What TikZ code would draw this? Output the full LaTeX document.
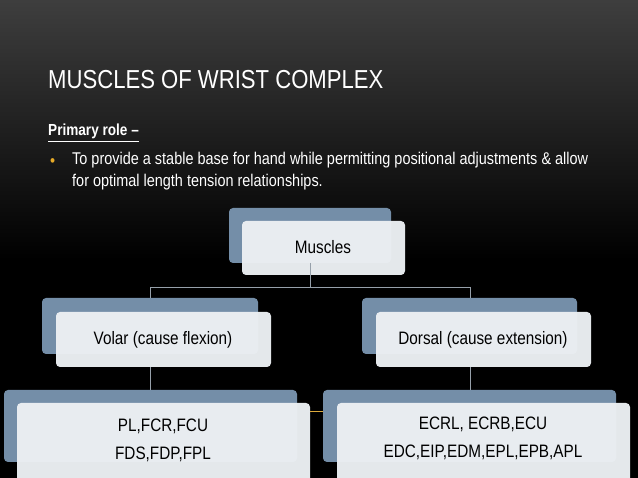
\documentclass[tikz,border=0pt]{standalone}
\usepackage{fontspec}
\setmainfont[FakeStretch=0.85]{Liberation Sans}
\definecolor{goldline}{RGB}{220,170,60}
\definecolor{bulletc}{RGB}{230,170,40}
\definecolor{backc}{RGB}{116,142,168}
\definecolor{frontc}{RGB}{236,240,243}
\definecolor{connc}{RGB}{150,160,170}
\definecolor{topgray}{RGB}{62,62,62}
\begin{document}
\begin{tikzpicture}[x=1pt,y=-1pt,
  backbox/.style={fill=backc,rounded corners=4pt},
  frontbox/.style={fill=frontc,fill opacity=0.97,rounded corners=4pt},
  lbl/.style={font=\fontsize{18}{22}\selectfont,text=black},
  conn/.style={draw=connc,line width=0.7pt}]
\useasboundingbox (0,0) rectangle (638,478);
\fill[black] (0,0) rectangle (638,478);
\shade[top color=topgray,bottom color=black] (0,0) rectangle (638,260);
\node[anchor=base west,text=white,font=\fontsize{26}{30}\selectfont,inner sep=0] (title) at (48,89) {MUSCLES OF WRIST COMPLEX};
\node[anchor=base west,text=white,font=\bfseries\fontsize{16}{19}\selectfont,inner sep=0] (role) at (48,136) {\underline{Primary role –}};
\node[anchor=base west,text=bulletc,font=\fontsize{17}{20}\selectfont,inner sep=0] (bul) at (50,167) {•};
\node[anchor=north west,text=white,inner sep=0,text width=516pt,align=justify,font=\fontsize{17}{22}\selectfont] (txt) at (72,152) {To provide a stable base for hand while permitting positional adjustments \& allow for optimal length tension relationships.};
% boxes
\path[backbox] (229,208) rectangle (391,263);
\path[frontbox] (242,221) rectangle (405,275);
\node[lbl] (m) at (323,247) {Muscles};
\path[backbox] (42,298) rectangle (258,354);
\path[frontbox] (56,312) rectangle (271,367);
\node[lbl] (v) at (163,340) {Volar (cause flexion)};
\path[backbox] (362,298) rectangle (577,354);
\path[frontbox] (376,312) rectangle (591,367);
\node[lbl] (d) at (483,340) {Dorsal (cause extension)};
\path[backbox] (4,390) rectangle (297,462);
\path[frontbox] (17,403) rectangle (310,485);
\node[lbl,align=center] (p) at (163,440) {PL,FCR,FCU\\[6pt]FDS,FDP,FPL};
\path[backbox] (323,390) rectangle (616,462);
\path[frontbox] (337,403) rectangle (630,485);
\node[lbl,align=center] (e) at (483,438) {ECRL, ECRB,ECU\\[6pt]EDC,EIP,EDM,EPL,EPB,APL};
% connectors
\coordinate (mb) at (310,263);
\coordinate (j) at (310,287);
\coordinate (jl) at (150,287);
\coordinate (jr) at (470,287);
\draw[conn] (mb) -- (j);
\draw[conn] (jl) -- (jr);
\draw[conn] (jl) -- (150,298);
\draw[conn] (jr) -- (470,298);
\draw[conn] (150,367) -- (150,390);
\draw[conn] (470,367) -- (470,390);
\draw[goldline,line width=1pt] (310,412) -- (323,412);
\end{tikzpicture}
\end{document}
